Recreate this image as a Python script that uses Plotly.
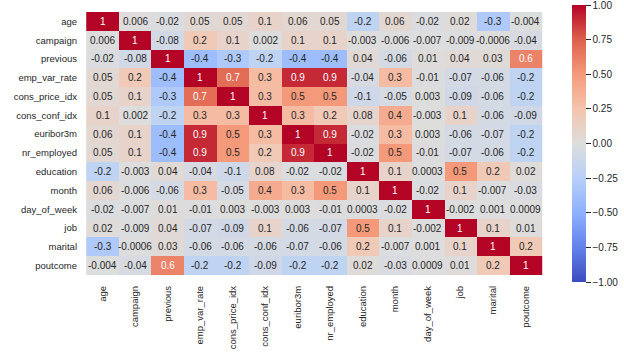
import plotly.graph_objects as go

labels = ["age", "campaign", "previous", "emp_var_rate", "cons_price_idx", "cons_conf_idx",
          "euribor3m", "nr_employed", "education", "month", "day_of_week", "job", "marital", "poutcome"]

corr = [
    [1, 0.006, -0.02, 0.05, 0.05, 0.1, 0.06, 0.05, -0.2, 0.06, -0.02, 0.02, -0.3, -0.004],
    [0.006, 1, -0.08, 0.2, 0.1, 0.002, 0.1, 0.1, -0.003, -0.006, -0.007, -0.009, -0.0006, -0.04],
    [-0.02, -0.08, 1, -0.4, -0.3, -0.2, -0.4, -0.4, 0.04, -0.06, 0.01, 0.04, 0.03, 0.6],
    [0.05, 0.2, -0.4, 1, 0.7, 0.3, 0.9, 0.9, -0.04, 0.3, -0.01, -0.07, -0.06, -0.2],
    [0.05, 0.1, -0.3, 0.7, 1, 0.3, 0.5, 0.5, -0.1, -0.05, 0.003, -0.09, -0.06, -0.2],
    [0.1, 0.002, -0.2, 0.3, 0.3, 1, 0.3, 0.2, 0.08, 0.4, -0.003, 0.1, -0.06, -0.09],
    [0.06, 0.1, -0.4, 0.9, 0.5, 0.3, 1, 0.9, -0.02, 0.3, 0.003, -0.06, -0.07, -0.2],
    [0.05, 0.1, -0.4, 0.9, 0.5, 0.2, 0.9, 1, -0.02, 0.5, -0.01, -0.07, -0.06, -0.2],
    [-0.2, -0.003, 0.04, -0.04, -0.1, 0.08, -0.02, -0.02, 1, 0.1, 0.0003, 0.5, 0.2, 0.02],
    [0.06, -0.006, -0.06, 0.3, -0.05, 0.4, 0.3, 0.5, 0.1, 1, -0.02, 0.1, -0.007, -0.03],
    [-0.02, -0.007, 0.01, -0.01, 0.003, -0.003, 0.003, -0.01, 0.0003, -0.02, 1, -0.002, 0.001, 0.0009],
    [0.02, -0.009, 0.04, -0.07, -0.09, 0.1, -0.06, -0.07, 0.5, 0.1, -0.002, 1, 0.1, 0.01],
    [-0.3, -0.0006, 0.03, -0.06, -0.06, -0.06, -0.07, -0.06, 0.2, -0.007, 0.001, 0.1, 1, 0.2],
    [-0.004, -0.04, 0.6, -0.2, -0.2, -0.09, -0.2, -0.2, 0.02, -0.03, 0.0009, 0.01, 0.2, 1],
]

cb_ticks = [-1.0, -0.75, -0.5, -0.25, 0.0, 0.25, 0.5, 0.75, 1.0]

coolwarm_pts = [
    (0.0, (59, 76, 192)), (0.125, (98, 130, 234)), (0.25, (141, 176, 254)),
    (0.375, (184, 208, 249)), (0.5, (221, 221, 221)), (0.625, (245, 196, 173)),
    (0.75, (244, 154, 123)), (0.875, (222, 96, 77)), (1.0, (180, 4, 38)),
]
colorscale = [[p, "rgb(%d,%d,%d)" % c] for p, c in coolwarm_pts]


def color_at(v):
    t = (v + 1) / 2
    for (p0, c0), (p1, c1) in zip(coolwarm_pts[:-1], coolwarm_pts[1:]):
        if p0 <= t <= p1:
            f = (t - p0) / (p1 - p0) if p1 > p0 else 0
            return [c0[i] + f * (c1[i] - c0[i]) for i in range(3)]
    return list(coolwarm_pts[-1][1])


def lum(rgb):
    out = []
    for c in rgb:
        c = c / 255
        out.append(c / 12.92 if c <= 0.03928 else ((c + 0.055) / 1.055) ** 2.4)
    return 0.2126 * out[0] + 0.7152 * out[1] + 0.0722 * out[2]


fig = go.Figure(go.Heatmap(
    z=corr, x=labels, y=labels, zmin=-1, zmax=1, colorscale=colorscale,
    xgap=0, ygap=0,
    colorbar=dict(
        x=1.0635, xanchor="left", y=0.5, yanchor="middle", len=277, lenmode="pixels",
        xpad=0, ypad=0,
        thickness=14, outlinewidth=0, tickvals=cb_ticks, tickformat=".2f",
        ticks="outside", ticklen=5, tickcolor="#262626", tickwidth=1,
        ticklabeloverflow="allow",
        tickfont=dict(family="Liberation Sans, Arial", size=10, color="#262626"),
    ),
))

annotations = []
for i, row in enumerate(labels):
    for j, col in enumerate(labels):
        v = corr[i][j]
        txt = format(v, ".1g")
        col_txt = "#262626" if lum(color_at(v)) > 0.408 else "white"
        annotations.append(dict(x=col, y=row, text=txt, showarrow=False,
                                font=dict(family="Liberation Sans, Arial", size=10, color=col_txt)))

fig.update_layout(
    width=624, height=354,
    margin=dict(l=86, r=81, t=5, b=72),
    paper_bgcolor="white", plot_bgcolor="white",
    annotations=annotations,
    font=dict(family="Liberation Sans, Arial", color="#262626"),
    xaxis=dict(tickangle=-90, tickfont=dict(size=9.5), showgrid=False, zeroline=False,
               ticks="", ticklabelstandoff=8),
    yaxis=dict(autorange="reversed", tickfont=dict(size=9.5), showgrid=False, zeroline=False,
               ticks="", ticklabelstandoff=8),
)

fig.write_html("out.html")
